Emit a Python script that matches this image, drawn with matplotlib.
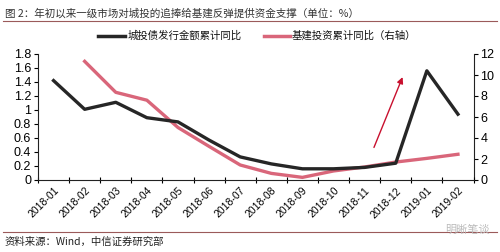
import matplotlib
matplotlib.use("Agg")
import matplotlib.pyplot as plt
from matplotlib.lines import Line2D

plt.rcParams['font.family'] = ['Liberation Sans', 'Noto Sans CJK SC', 'DejaVu Sans']

months = ["2018-01", "2018-02", "2018-03", "2018-04", "2018-05", "2018-06", "2018-07",
          "2018-08", "2018-09", "2018-10", "2018-11", "2018-12", "2019-01", "2019-02"]
bond_issue = [1.42, 1.01, 1.11, 0.89, 0.83, 0.57, 0.33, 0.23, 0.16, 0.16, 0.18, 0.24, 1.56, 0.94]
infra_months = months[1:]
infra_invest = [11.3, 8.35, 7.6, 5.0, 3.2, 1.43, 0.63, 0.25, 0.86, 1.24, 1.71, 2.06, 2.45]

title = "图 2：年初以来一级市场对城投的追捧给基建反弹提供资金支撑（单位：%）"
source = "资料来源：Wind，中信证券研究部"
label_bond = "城投债发行金额累计同比"
label_infra = "基建投资累计同比（右轴）"
left_ticks = [0, 0.2, 0.4, 0.6, 0.8, 1, 1.2, 1.4, 1.6, 1.8]
left_tick_labels = ["0", "0.2", "0.4", "0.6", "0.8", "1", "1.2", "1.4", "1.6", "1.8"]
right_ticks = [0, 2, 4, 6, 8, 10, 12]

W, H = 500, 252
fig = plt.figure(figsize=(5, 2.52), dpi=100)
ax = fig.add_axes([38 / W, 1 - 180 / H, (473.5 - 38) / W, (180 - 54) / H])
ax2 = ax.twinx()

black = "#262626"
pink = "#d9667a"
cjk = ['Noto Sans CJK SC', 'DejaVu Sans']
xb = list(range(len(months)))
xi = [months.index(m) for m in infra_months]
ax.plot(xb, bond_issue, color=black, lw=2.4, zorder=3)
ax2.plot(xi, infra_invest, color=pink, lw=2.4, zorder=2)
ax.set_zorder(ax2.get_zorder() + 1)
ax.patch.set_visible(False)

ax.set_xlim(-0.5, len(months) - 0.5)
ax.set_ylim(0, 1.8)
ax2.set_ylim(0, 12)
ax.set_yticks(left_ticks)
ax.set_yticklabels(left_tick_labels)
ax2.set_yticks(right_ticks)
ax.set_xticks(xb)
ax.set_xticklabels(months, rotation=45, ha="right", rotation_mode="anchor", fontsize=7.5)
ax.set_xticks([i - 0.5 for i in range(len(months) + 1)], minor=True)
ax.tick_params(axis="x", which="major", length=0, pad=4)
ax.tick_params(axis="x", which="minor", length=4, direction="inout", width=0.8)
ax.tick_params(axis="y", labelsize=9, length=3, width=0.8, pad=2)
ax2.tick_params(axis="y", labelsize=9, length=3, width=0.8, pad=2)
for a in (ax, ax2):
    a.spines["top"].set_visible(False)
    for s in a.spines.values():
        s.set_linewidth(0.8)
        s.set_color("#222222")
ax.spines["right"].set_visible(False)
ax2.spines["left"].set_visible(False)
ax2.spines["bottom"].set_visible(False)

# arrow
ax2.annotate("", xy=(11.22, 9.8), xytext=(10.3, 3.1),
             arrowprops=dict(arrowstyle="-|>", color="#c8102e", lw=1.0,
                             mutation_scale=9, shrinkA=0, shrinkB=0))

# title and lines
fig.text(5 / W, 1 - 13 / H, title, fontsize=7.6, family=cjk,
         va="center", ha="left", color="#333333")
fig.add_artist(Line2D([3 / W, 497 / W], [1 - 20.5 / H, 1 - 20.5 / H], color="#9b5a5a", lw=0.8))
fig.add_artist(Line2D([3 / W, 497 / W], [1 - 232 / H, 1 - 232 / H], color="#9b5a5a", lw=0.8))
fig.text(5 / W, 1 - 242 / H, source, fontsize=7.5, family=cjk,
         va="center", ha="left", color="#222222")
fig.text(490 / W, 1 - 230 / H, "明晰笔谈", fontsize=8, family=cjk,
         va="center", ha="right", color="#bbbbbb")

# legend
ly = 1 - 36 / H
fig.add_artist(Line2D([98 / W, 125 / W], [ly, ly], color=black, lw=2.5))
fig.text(128 / W, ly, label_bond, fontsize=7.5, family=cjk,
         va="center", ha="left", color="#111111")
fig.add_artist(Line2D([264 / W, 290 / W], [ly, ly], color=pink, lw=2.5))
fig.text(292 / W, ly, label_infra, fontsize=7.5, family=cjk,
         va="center", ha="left", color="#111111")

fig.savefig("out.png", dpi=100)
